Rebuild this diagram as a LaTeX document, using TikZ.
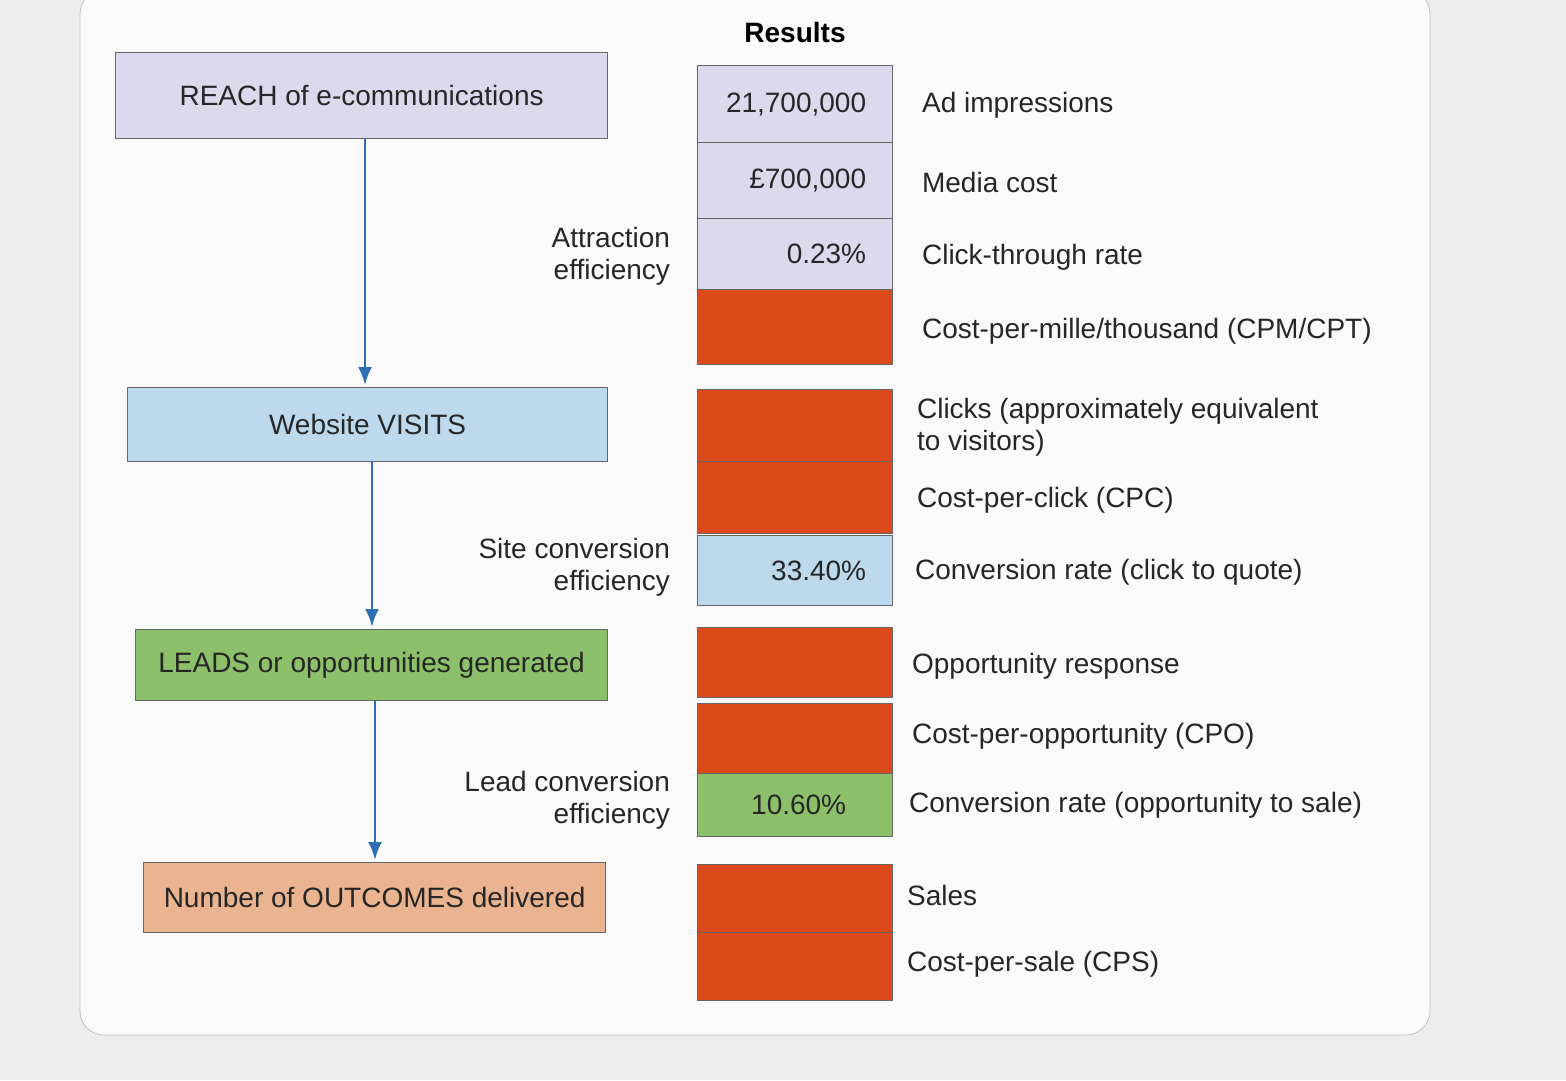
\documentclass[tikz,border=0pt]{standalone}
\usepackage{fontspec}
\setmainfont{Liberation Sans}
\usetikzlibrary{arrows.meta}
\definecolor{arrblue}{HTML}{2F6DB5}
\begin{document}
\begin{tikzpicture}[x=0.5pt,y=-0.5pt,
  box/.style={draw=gray!80!black,line width=0.6pt,anchor=north west,inner sep=0pt},
  lbl/.style={font=\fontsize{14}{16}\selectfont,text=black!85},
  res/.style={box,minimum width=97.5pt,minimum height=#1*0.5pt},
  arr/.style={draw=arrblue,line width=1.4pt,-{Latex[length=9pt,width=7pt]}}]
\useasboundingbox (0,0) rectangle (1566,1080);
\fill[gray!15] (0,0) rectangle (1566,1080);
\draw[gray!50,fill=gray!4,rounded corners=12pt] (80,-10) rectangle (1430,1035);
\definecolor{lav}{HTML}{DDD9EC}
\definecolor{lblue}{HTML}{BCD9EE}
\definecolor{lgreen}{HTML}{8CC06A}
\definecolor{lorange}{HTML}{E9B48F}
\definecolor{red1}{HTML}{DC4A1C}
% left flow
\node[box,fill=lav,minimum width=246pt,minimum height=43pt] (reach) at (115,52) {};
\node[lbl] at (reach.center) {REACH of e-communications};
\node[box,fill=lblue,minimum width=240pt,minimum height=37pt] (visits) at (127,387) {};
\node[lbl] at (visits.center) {Website VISITS};
\node[box,fill=lgreen,minimum width=236pt,minimum height=35.5pt] (leads) at (135,629) {};
\node[lbl] at (leads.center) {LEADS or opportunities generated};
\node[box,fill=lorange,minimum width=231pt,minimum height=35pt] (out) at (143,862) {};
\node[lbl] at (out.center) {Number of OUTCOMES delivered};
\coordinate (a1) at (365,138); \coordinate (a2) at (365,385);
\coordinate (b1) at (372,461); \coordinate (b2) at (372,627);
\coordinate (c1) at (375,700); \coordinate (c2) at (375,860);
\draw[arr] (a1) -- (a2);
\draw[arr] (b1) -- (b2);
\draw[arr] (c1) -- (c2);
\node[lbl,align=right,anchor=east] (e1) at (677,256) {Attraction\\efficiency};
\node[lbl,align=right,anchor=east] (e2) at (677,567) {Site conversion\\efficiency};
\node[lbl,align=right,anchor=east] (e3) at (677,800) {Lead conversion\\efficiency};
% results
\node[font=\bfseries\fontsize{14}{16}\selectfont] (title) at (795,32) {Results};
\node[res=77,fill=lav] (r1) at (697,65) {};
\node[lbl,anchor=east] at ([xshift=-10]r1.east) {21,700,000};
\node[res=76,fill=lav] (r2) at (697,142) {};
\node[lbl,anchor=east] at ([xshift=-10]r2.east) {£700,000};
\node[res=71,fill=lav] (r3) at (697,218) {};
\node[lbl,anchor=east] at ([xshift=-10]r3.east) {0.23\%};
\node[res=75,fill=red1] (r4) at (697,289) {};
\node[res=72,fill=red1] (r5) at (697,389) {};
\node[res=72,fill=red1] (r6) at (697,461) {};
\node[res=70,fill=lblue] (r7) at (697,535) {};
\node[lbl,anchor=east] at ([xshift=-10]r7.east) {33.40\%};
\node[res=70,fill=red1] (r8) at (697,627) {};
\node[res=70,fill=red1] (r9) at (697,703) {};
\node[res=63,fill=lgreen] (r10) at (697,773) {};
\node[lbl,anchor=east] at ([xshift=-20]r10.east) {10.60\%};
\node[res=68,fill=red1] (r11) at (697,864) {};
\node[res=68,fill=red1] (r12) at (697,932) {};
% labels
\node[lbl,anchor=west] at (915,105) {Ad impressions};
\node[lbl,anchor=west] at (915,182) {Media cost};
\node[lbl,anchor=west] at (915,257) {Click-through rate};
\node[lbl,anchor=west] at (915,331) {Cost-per-mille/thousand (CPM/CPT)};
\node[lbl,anchor=west,align=left] at (910,427) {Clicks (approximately equivalent\\to visitors)};
\node[lbl,anchor=west] at (910,500) {Cost-per-click (CPC)};
\node[lbl,anchor=west] at (908,572) {Conversion rate (click to quote)};
\node[lbl,anchor=west] at (905,666) {Opportunity response};
\node[lbl,anchor=west] at (905,736) {Cost-per-opportunity (CPO)};
\node[lbl,anchor=west] at (902,805) {Conversion rate (opportunity to sale)};
\node[lbl,anchor=west] at (900,895) {Sales};
\node[lbl,anchor=west] at (900,964) {Cost-per-sale (CPS)};
\end{tikzpicture}
\end{document}
